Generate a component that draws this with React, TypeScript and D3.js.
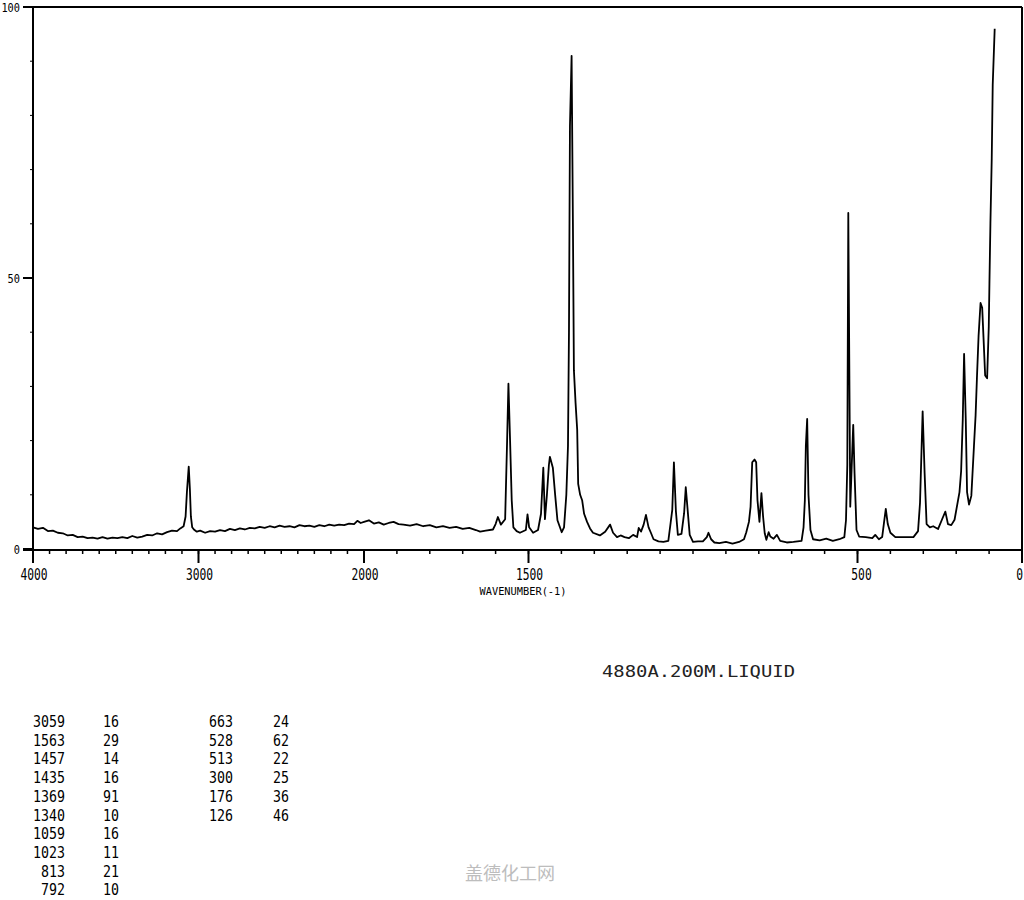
import React from 'react';
import * as d3 from 'd3';

// spectrum, [wavenumber, intensity]
const spectrumHigh: [number, number][] = [
  [4000, 4.0], [3970, 3.7], [3940, 3.9], [3910, 3.3], [3880, 3.4], [3850, 3.0], [3820, 2.9],
  [3790, 2.5], [3760, 2.6], [3730, 2.2], [3700, 2.3], [3670, 2.0], [3640, 2.1], [3610, 1.9],
  [3580, 2.2], [3550, 1.9], [3520, 2.1], [3490, 2.0], [3460, 2.2], [3430, 2.0], [3400, 2.4],
  [3370, 2.1], [3340, 2.3], [3310, 2.6], [3280, 2.5], [3250, 2.9], [3220, 2.7], [3190, 3.1],
  [3160, 3.4], [3130, 3.3], [3110, 3.8], [3090, 4.2], [3078, 6.0], [3070, 10.5], [3059, 15.2],
  [3052, 11], [3046, 6], [3038, 4], [3028, 3.6], [3010, 3.2], [2990, 3.4], [2960, 3.0],
  [2930, 3.3], [2900, 3.2], [2870, 3.5], [2840, 3.3], [2810, 3.7], [2780, 3.5], [2750, 3.8],
  [2720, 3.6], [2690, 3.9], [2660, 3.8], [2630, 4.1], [2600, 3.9], [2570, 4.2], [2540, 4.0],
  [2510, 4.3], [2480, 4.1], [2450, 4.2], [2420, 4.0], [2390, 4.4], [2360, 4.2], [2330, 4.3],
  [2300, 4.1], [2270, 4.4], [2240, 4.2], [2210, 4.5], [2180, 4.3], [2150, 4.5], [2120, 4.4],
  [2090, 4.7], [2060, 4.6], [2040, 5.2], [2020, 4.8], [2000, 5.0], [1985, 5.3], [1970, 4.7],
  [1955, 4.9], [1940, 4.5], [1925, 4.8], [1910, 5.0], [1895, 4.6], [1880, 4.5], [1860, 4.3],
  [1840, 4.6], [1820, 4.2], [1800, 4.4], [1780, 4.0], [1760, 4.2], [1740, 3.9], [1720, 4.1],
  [1700, 3.7], [1680, 3.9], [1660, 3.5],
];

const spectrumMid: [number, number][] = [
  [1647, 3.2], [1630, 3.4], [1608, 3.6], [1600, 4.6], [1593, 5.9], [1584, 4.5], [1571, 5.5],
  [1565, 20], [1561, 30.5], [1556, 20], [1551, 9], [1546, 4], [1536, 3.3], [1526, 3.0],
  [1508, 3.5], [1503, 6.4], [1498, 4], [1486, 3], [1471, 3.5], [1462, 6.5], [1455, 15],
  [1450, 5.5], [1444, 10], [1438, 15.5], [1435, 17], [1426, 15], [1419, 10], [1412, 5.3],
  [1399, 3.1], [1392, 4], [1385, 10], [1380, 19], [1377, 40], [1374, 78], [1369, 91],
  [1365, 60], [1362, 33], [1357, 27], [1352, 22], [1349, 12], [1343, 10], [1337, 9],
  [1331, 6.5], [1322, 5], [1313, 3.8], [1304, 3], [1283, 2.5], [1267, 3.2], [1252, 4.5],
  [1243, 3], [1231, 2.2], [1220, 2.5], [1208, 2.2], [1195, 2.0], [1182, 2.6], [1170, 2.2],
  [1165, 3.9], [1158, 3.2], [1150, 4.5], [1143, 6.3], [1135, 4], [1128, 3], [1120, 1.8],
  [1105, 1.4], [1090, 1.3], [1075, 1.5], [1068, 4.8], [1063, 7.2], [1058, 16], [1052, 7],
  [1046, 2.6], [1035, 2.8], [1027, 6.6], [1022, 11.4], [1016, 7], [1010, 2.6], [1000, 1.3],
  [985, 1.4], [970, 1.4], [958, 2.2], [953, 3.0], [945, 1.8], [935, 1.2], [920, 1.1],
  [900, 1.3], [880, 1.0], [860, 1.3], [845, 1.8], [838, 3.1], [830, 5], [825, 7.8],
  [820, 16], [813, 16.5], [808, 16], [804, 9], [798, 5], [792, 10.3], [787, 6], [782, 2.9],
  [777, 1.7], [770, 3.1], [765, 2.3], [755, 1.9], [745, 2.6], [735, 1.5], [715, 1.2],
  [695, 1.3], [670, 1.5], [664, 4], [660, 9], [657, 19], [653, 24], [649, 10], [643, 3.5],
  [635, 1.8], [615, 1.6], [595, 1.9], [575, 1.5], [555, 1.8], [540, 2.2], [535, 5.3],
  [531, 15.5], [528, 62], [522, 7.8], [518, 14.6], [513, 22.9], [509, 14], [503, 3.5],
];

const spectrumLow: [number, number][] = [
  [495, 2.3], [475, 2.2], [455, 2.0], [446, 2.6], [435, 1.8], [425, 2.2], [420, 4.6],
  [414, 7.4], [408, 4.6], [400, 3], [385, 2.2], [360, 2.2], [330, 2.2], [316, 3.3],
  [310, 8.5], [302, 25.4], [296, 14], [290, 4.6], [280, 4], [270, 4.2], [255, 3.7],
  [240, 5.9], [233, 6.9], [225, 4.6], [215, 4.4], [205, 5.4], [190, 10.5], [185, 14.4],
  [180, 24], [176, 36], [171, 24], [167, 10.5], [161, 8.2], [154, 9.8], [146, 19],
  [141, 24.7], [137, 31.5], [132, 39.3], [126, 45.4], [121, 44.5], [117, 39], [112, 32],
  [106, 31.5], [101, 41], [99, 49], [96, 60], [92, 72], [89, 85.6], [83, 96],
];

const xTickLabels = [4000, 3000, 2000, 1500, 500, 0];
const yTickLabels = [0, 50, 100];

const peakWavenumbersA = [3059, 1563, 1457, 1435, 1369, 1340, 1059, 1023, 813, 792];
const peakIntensitiesA = [16, 29, 14, 16, 91, 10, 16, 11, 21, 10];
const peakWavenumbersB = [663, 528, 513, 300, 176, 126];
const peakIntensitiesB = [24, 62, 22, 25, 36, 46];

const xLabel = 'WAVENUMBER(-1)';
const sampleLabel = '4880A.200M.LIQUID';
const watermark = '盖德化工网';

const mono = '"DejaVu Sans Mono", monospace';

export default function App() {
  const width = 1024;
  const height = 900;

  // axis is compressed above 2000
  const x = d3.scaleLinear().domain([4000, 2000, 0]).range([33, 364, 1022]);
  const y = d3.scaleLinear().domain([0, 100]).range([549, 7]);

  const data = [...spectrumHigh, ...spectrumMid, ...spectrumLow];
  const line = d3
    .line<[number, number]>()
    .x((d) => x(d[0]))
    .y((d) => y(d[1]));

  const minorX = d3.range(0, 4001, 100);
  const minorY = d3.range(0, 101, 10);

  const rowY = (i: number) => 727 + i * 18.7;

  // nudge labels so none runs off the right edge
  const xLabelPos = (v: number) => (v === 0 ? 1023 : x(v) + (v === 500 ? 4 : 1));

  return (
    <div style={{ position: 'absolute', left: 0, top: 0 }}>
      <svg width={width} height={height} style={{ display: 'block', background: '#fff' }}>
        {/* frame */}
        <line x1={24} x2={1022} y1={y(100)} y2={y(100)} stroke="#000" strokeWidth={2} />
        <line x1={1022} x2={1022} y1={y(100)} y2={y(0) + 1} stroke="#000" strokeWidth={2} />
        <line x1={33} x2={33} y1={y(100)} y2={y(0) + 1} stroke="#000" strokeWidth={2} />
        <line x1={23} x2={1023} y1={y(0) + 1} y2={y(0) + 1} stroke="#000" strokeWidth={2} />

        {/* y ticks */}
        {minorY.map((v) => (
          <line key={'my' + v} x1={30} x2={33} y1={y(v)} y2={y(v)} stroke="#000" strokeWidth={1} />
        ))}
        {yTickLabels.map((v) => (
          <g key={'y' + v}>
            <line x1={23} x2={33} y1={y(v)} y2={y(v)} stroke="#000" strokeWidth={2} />
            <text
              x={20}
              y={y(v) + 4.5}
              textAnchor="end"
              fontFamily={mono}
              fontSize={12}
              textLength={String(v).length * 6.2}
              lengthAdjust="spacingAndGlyphs"
            >
              {v}
            </text>
          </g>
        ))}

        {/* x ticks */}
        {minorX.map((v) => (
          <line key={'mx' + v} x1={x(v)} x2={x(v)} y1={550} y2={554} stroke="#000" strokeWidth={1.5} />
        ))}
        {xTickLabels.map((v) => (
          <g key={'x' + v}>
            <line x1={x(v)} x2={x(v)} y1={550} y2={563} stroke="#000" strokeWidth={2} />
            <text
              x={xLabelPos(v)}
              y={580}
              textAnchor={v === 0 ? 'end' : 'middle'}
              fontFamily={mono}
              fontSize={15}
              textLength={String(v).length * 6.8}
              lengthAdjust="spacingAndGlyphs"
            >
              {v}
            </text>
          </g>
        ))}
        <text
          x={523}
          y={595}
          textAnchor="middle"
          fontFamily={mono}
          fontSize={11}
          textLength={87}
          lengthAdjust="spacingAndGlyphs"
        >
          {xLabel}
        </text>

        {/* spectrum */}
        <path d={line(data) ?? ''} fill="none" stroke="#000" strokeWidth={1.8} strokeLinejoin="round" />

        <text
          x={602}
          y={677}
          fontFamily={mono}
          fontSize={16}
          textLength={193}
          lengthAdjust="spacingAndGlyphs"
          fill="#222"
        >
          {sampleLabel}
        </text>

        {/* peak table */}
        {peakWavenumbersA.map((w, i) => (
          <g key={'pa' + i} fontFamily={mono} fontSize={15}>
            <text x={65} y={rowY(i)} textAnchor="end" textLength={String(w).length * 8} lengthAdjust="spacingAndGlyphs">
              {w}
            </text>
            <text x={103} y={rowY(i)} textLength={String(peakIntensitiesA[i]).length * 8} lengthAdjust="spacingAndGlyphs">
              {peakIntensitiesA[i]}
            </text>
          </g>
        ))}
        {peakWavenumbersB.map((w, i) => (
          <g key={'pb' + i} fontFamily={mono} fontSize={15}>
            <text x={233} y={rowY(i)} textAnchor="end" textLength={String(w).length * 8} lengthAdjust="spacingAndGlyphs">
              {w}
            </text>
            <text x={273} y={rowY(i)} textLength={String(peakIntensitiesB[i]).length * 8} lengthAdjust="spacingAndGlyphs">
              {peakIntensitiesB[i]}
            </text>
          </g>
        ))}

        <text
          x={510}
          y={880}
          textAnchor="middle"
          fontFamily='"Noto Sans CJK SC", sans-serif'
          fontSize={18}
          fill="#bdbdbd"
        >
          {watermark}
        </text>
      </svg>
    </div>
  );
}
